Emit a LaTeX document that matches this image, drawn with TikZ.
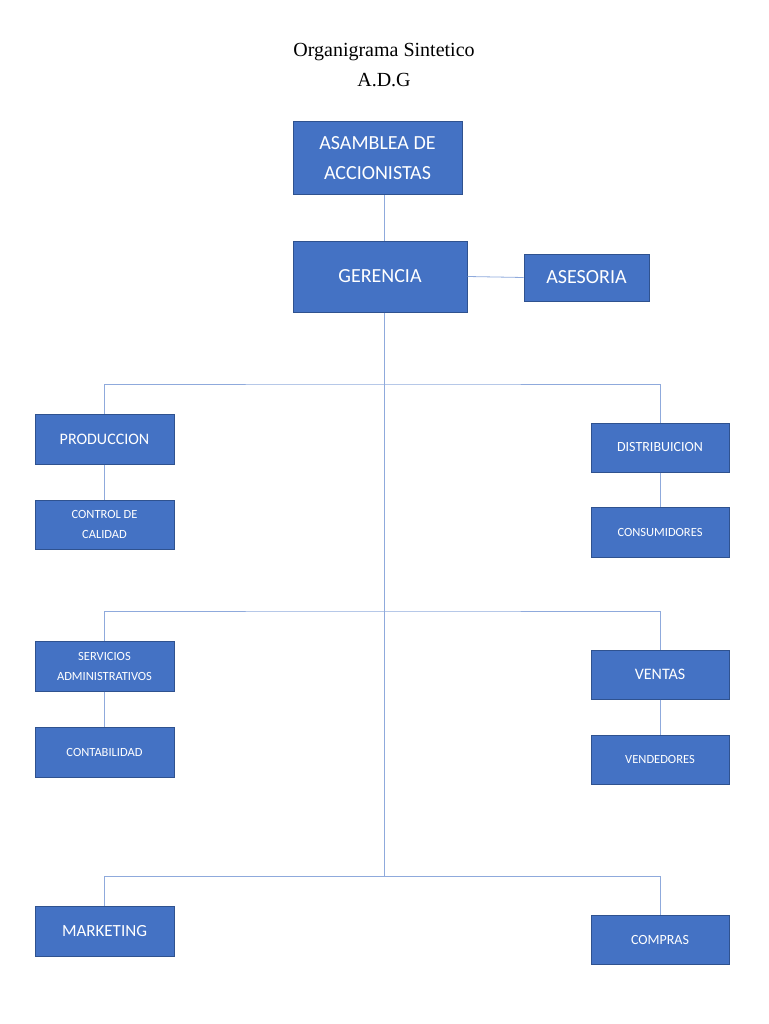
\documentclass[tikz,border=0pt]{standalone}
\usepackage{fontspec}
\setmainfont{Carlito}
\newfontfamily\titlefont{Liberation Serif}
\definecolor{boxfill}{HTML}{4472C4}
\definecolor{boxline}{HTML}{2F528F}
\definecolor{conn}{HTML}{8FAADC}
\begin{document}
\begin{tikzpicture}[x=1pt,y=-1pt,
  box/.style={draw=boxline,line width=1pt,fill=boxfill,text=white,align=center,inner sep=0pt},
  big/.style={box,font=\fontsize{20}{30}\selectfont},
  mid/.style={box,font=\fontsize{16}{20}\selectfont},
  small/.style={box,font=\fontsize{12.5}{20}\selectfont},
  cn/.style={draw=conn,line width=0.8pt}]
\useasboundingbox (0,0) rectangle (768,1024);
\node[font=\titlefont\fontsize{20}{30}\selectfont,align=center] (title) at (384,65) {Organigrama Sintetico\\A.D.G};
\node[big,minimum width=169,minimum height=73] (asam) at (377.5,158.5) {ASAMBLEA DE\\ACCIONISTAS};
\node[big,minimum width=174,minimum height=71] (ger) at (380,276.5) {GERENCIA};
\node[big,minimum width=125,minimum height=47] (ases) at (586.5,277.5) {ASESORIA};
\node[mid,minimum width=139,minimum height=50] (prod) at (104.5,439) {PRODUCCION};
\node[small,minimum width=139,minimum height=49] (ctrl) at (104.5,524.5) {CONTROL DE\\CALIDAD};
\node[mid,minimum width=138,minimum height=49,font=\fontsize{14}{20}\selectfont] (dist) at (660,447.5) {DISTRIBUICION};
\node[small,minimum width=138,minimum height=50] (cons) at (660,532) {CONSUMIDORES};
\node[small,minimum width=139,minimum height=50] (serv) at (104.5,666) {SERVICIOS\\ADMINISTRATIVOS};
\node[small,minimum width=139,minimum height=50] (cont) at (104.5,752) {CONTABILIDAD};
\node[mid,minimum width=138,minimum height=49] (vent) at (660,674.5) {VENTAS};
\node[small,minimum width=138,minimum height=49] (vend) at (660,759.5) {VENDEDORES};
\node[mid,minimum width=139,minimum height=50,font=\fontsize{17}{20}\selectfont] (mark) at (104.5,931) {MARKETING};
\node[mid,minimum width=138,minimum height=49,font=\fontsize{14}{20}\selectfont] (comp) at (660,939.5) {COMPRAS};
\coordinate (j1) at (384,384);
\coordinate (j2) at (384,611);
\coordinate (j3) at (384,876);
\draw[cn] (asam.south -| 384,0) -- (ger.north -| 384,0);
\draw[cn] (ger.east) -- (ases.west);
\draw[cn] (ger.south -| 384,0) -- (j3);
\draw[cn] (prod.north) |- (j1) -| (dist.north);
\draw[cn] (serv.north) |- (j2) -| (vent.north);
\draw[cn] (mark.north) |- (j3) -| (comp.north);
\draw[cn] (prod) -- (ctrl);
\draw[cn] (dist) -- (cons);
\draw[cn] (serv) -- (cont);
\draw[cn] (vent) -- (vend);
\end{tikzpicture}
\end{document}
